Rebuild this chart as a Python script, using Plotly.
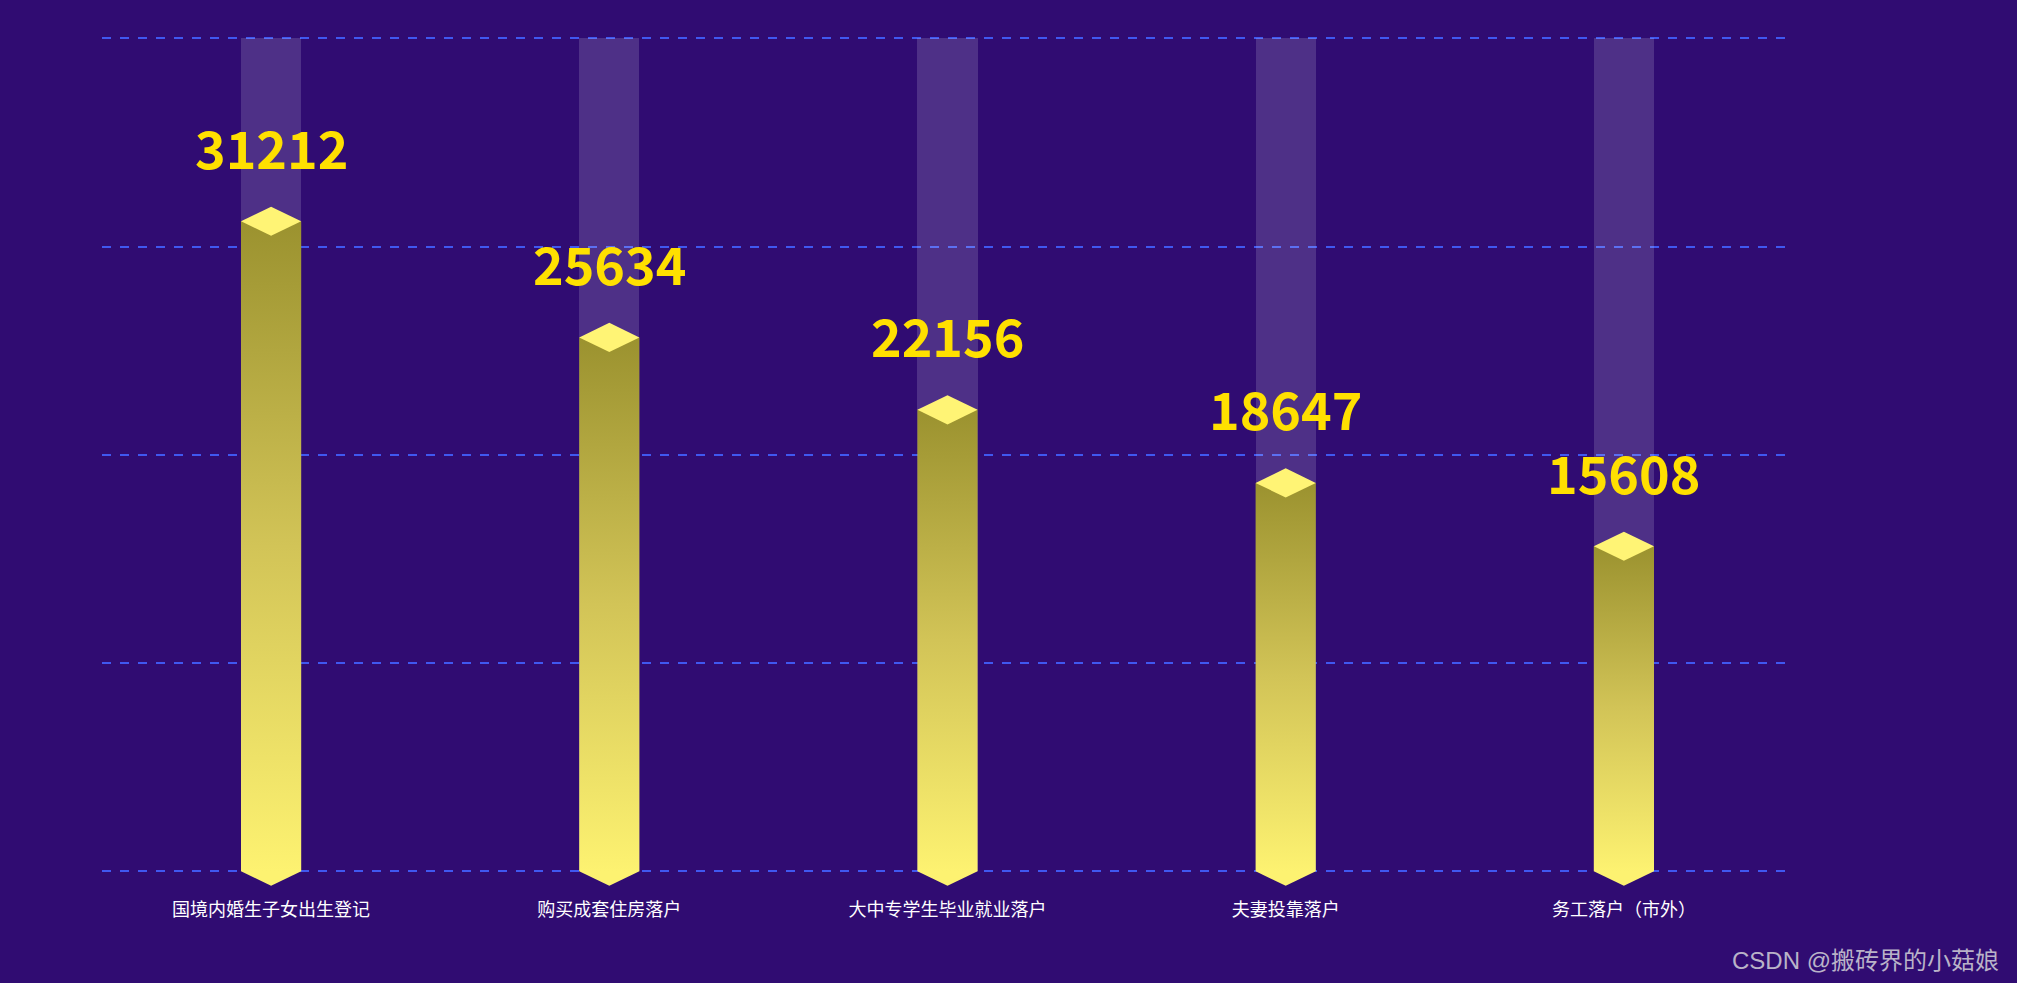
import plotly.graph_objects as go

# dados do gráfico
categorias = ['国境内婚生子女出生登记', '购买成套住房落户', '大中专学生毕业就业落户', '夫妻投靠落户', '务工落户（市外）']
valores = [31212, 25634, 22156, 18647, 15608]
eixo_max = 40000

fundo = '#300c72'
meia_largura = 0.089   # metade da largura da barra (unidades do eixo x)
meio_losango = 700     # metade da altura do losango (unidades do eixo y)

fig = go.Figure()

# barra de sombra atrás de cada coluna
fig.add_trace(go.Bar(
    x=list(range(len(categorias))), y=[eixo_max] * len(categorias),
    width=meia_largura * 2, marker=dict(color='rgba(255,255,255,0.15)', line=dict(width=0)),
    hoverinfo='skip', showlegend=False))

for i, v in enumerate(valores):
    # corpo da barra com degradê e ponta inferior
    fig.add_trace(go.Scatter(
        x=[i - meia_largura, i - meia_largura, i + meia_largura, i + meia_largura, i, i - meia_largura],
        y=[0, v, v, 0, -meio_losango, 0],
        mode='lines', line=dict(width=0), fill='toself',
        fillgradient=dict(type='vertical', start=0, stop=v,
                          colorscale=[[0, '#fdf271'], [0.5, '#d2c457'], [1, '#9b922f']]),
        hoverinfo='skip', showlegend=False))
    # tampa (losango) no topo
    fig.add_trace(go.Scatter(
        x=[i - meia_largura, i, i + meia_largura, i, i - meia_largura],
        y=[v, v + meio_losango, v, v - meio_losango, v],
        mode='lines', line=dict(width=0), fill='toself', fillcolor='#fff475',
        hoverinfo='skip', showlegend=False))
    # rótulo com o valor
    fig.add_annotation(x=i, y=v, yshift=75, text=f'<b>{v}</b>', showarrow=False,
                       font=dict(size=52, color='#ffe000', family='Noto Sans CJK SC'))

fig.add_annotation(xref='paper', yref='paper', x=1.123, y=-0.083, xanchor='right', yanchor='middle',
                   text='CSDN @搬砖界的小菇娘', showarrow=False,
                   font=dict(size=24, color='#b9b3c8', family='Liberation Sans, Noto Sans CJK SC'))

fig.update_layout(
    width=2017, height=983,
    margin=dict(l=102, r=224, t=37, b=93),
    paper_bgcolor=fundo, plot_bgcolor=fundo,
    bargap=0, showlegend=False,
    font=dict(family='Noto Sans CJK SC', color='white'))
fig.update_xaxes(range=[-0.5, len(categorias) - 0.5], tickvals=list(range(len(categorias))),
                 ticktext=categorias, showgrid=False, zeroline=False, showline=False,
                 ticks='outside', ticklen=3, tickcolor='rgba(0,0,0,0)',
                 tickfont=dict(size=18, color='white'))
fig.update_yaxes(range=[-900, eixo_max + 60], tick0=0, dtick=10000, showticklabels=False,
                 showgrid=True, gridcolor='#4058f0', griddash='dash', gridwidth=1.6,
                 zeroline=False, showline=False)

fig.write_html('out.html', config={'displayModeBar': False},
               post_script="document.body.style.margin='0';"
                           "document.body.style.background='#300c72';")
